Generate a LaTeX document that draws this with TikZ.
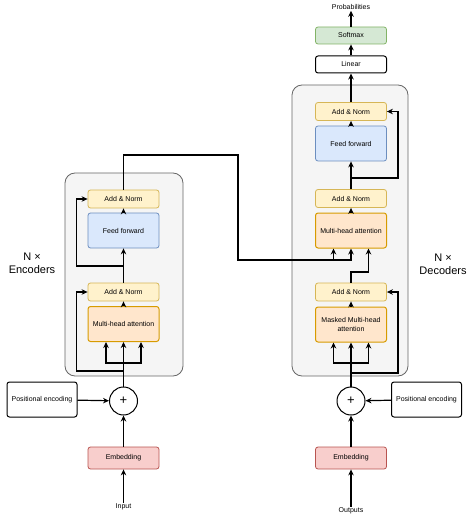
\documentclass[tikz,border=0pt]{standalone}
\usepackage{fontspec}
\setmainfont{Liberation Sans}
\usepackage{tikz}
\usetikzlibrary{calc}
\usetikzlibrary{arrows.meta}
\definecolor{normfill}{RGB}{255, 242, 204}
\definecolor{normline}{RGB}{214, 182, 86}
\definecolor{fffill}{RGB}{218, 232, 252}
\definecolor{ffline}{RGB}{108, 142, 191}
\definecolor{attfill}{RGB}{255, 230, 204}
\definecolor{attline}{RGB}{215, 155, 0}
\definecolor{embfill}{RGB}{248, 206, 204}
\definecolor{embline}{RGB}{184, 84, 80}
\definecolor{smfill}{RGB}{213, 232, 212}
\definecolor{smline}{RGB}{130, 179, 102}
\definecolor{stackfill}{RGB}{245, 245, 245}
\definecolor{stackline}{RGB}{102, 102, 102}

\tikzset{
  blk/.style={rectangle, rounded corners=2.5pt, line width=0.8pt, minimum width=71pt,
              inner sep=1pt, align=center, font=\fontsize{7}{8.5}\selectfont},
  addnorm/.style={blk, draw=normline, fill=normfill, minimum height=18pt},
  ffbox/.style={blk, draw=ffline, fill=fffill, minimum height=35pt},
  attbox/.style={blk, draw=attline, fill=attfill, minimum height=35pt, line width=1pt},
  embbox/.style={blk, draw=embline, fill=embfill, minimum height=22pt},
  smbox/.style={blk, draw=smline, fill=smfill, minimum height=17pt},
  plainbox/.style={blk, draw=black, fill=white, minimum height=17pt, line width=1pt},
  posbox/.style={blk, draw=black, fill=white, minimum width=70pt, minimum height=35pt, line width=1pt},
  addcirc/.style={circle, draw=black, fill=white, line width=1pt, minimum size=28pt, inner sep=0pt,
                  font=\fontsize{13}{13}\selectfont},
  stack/.style={draw=stackline, fill=stackfill, line width=0.8pt, rounded corners=10pt},
  caption/.style={font=\fontsize{7}{8.5}\selectfont, inner sep=1pt},
  sidelabel/.style={align=center, font=\fontsize{11}{13}\selectfont},
  link/.style={->, line width=1.2pt}
}

\begin{document}
\begin{tikzpicture}[x=1pt, y=-1pt, >={Stealth[length=6pt, width=5.5pt]}]
  \useasboundingbox (0,0) rectangle (474,521);
  % Stacks
  \draw[stack] (65,173) rectangle (183,376);
  \draw[stack] (292,85) rectangle (408,376);

  % Encoder
  \node[addnorm] (encAN2) at (123.5,199) {Add \& Norm};
  \node[ffbox]   (encFF)  at (123.5,230.5) {Feed forward};
  \node[addnorm] (encAN1) at (123.5,292) {Add \& Norm};
  \node[attbox]  (encMHA) at (123.5,324) {Multi-head attention};
  \node[addcirc] (encAdd) at (123.5,401) {+};
  \node[posbox]  (encPE)  at (42,399.5) {Positional encoding};
  \node[embbox]  (encEmb) at (123.5,458) {Embedding};
  \node[caption] (encIn)  at (123.5,507) {Input};
  \node[sidelabel] (encN) at (32,263.5) {N ×\\Encoders};

  % Decoder
  \node[caption]  (prob)    at (351,7) {Probabilities};
  \node[smbox]    (softmax) at (351,35.5) {Softmax};
  \node[plainbox] (linear)  at (351,64.5) {Linear};
  \node[addnorm]  (decAN3)  at (351,111.5) {Add \& Norm};
  \node[ffbox]    (decFF)   at (351,143.5) {Feed forward};
  \node[addnorm]  (decAN2)  at (351,198.5) {Add \& Norm};
  \node[attbox]   (decMHA)  at (351,230.5) {Multi-head attention};
  \node[addnorm]  (decAN1)  at (351,292) {Add \& Norm};
  \node[attbox]   (decMMHA) at (351,324.5) {Masked Multi-head\\attention};
  \node[addcirc]  (decAdd)  at (351,401) {+};
  \node[posbox]   (decPE)   at (426.5,399.5) {Positional encoding};
  \node[embbox]   (decEmb)  at (351,458) {Embedding};
  \node[caption]  (decOut)  at (351,511) {Outputs};
  \node[sidelabel] (decN)   at (443,264) {N ×\\Decoders};

  % Encoder wiring
  \coordinate (encSplit) at (123.5,363);
  \coordinate (encRes1)  at (123.5,371);
  \coordinate (encRes2)  at (123.5,266);
  \coordinate (encQ) at ([xshift=-17.5pt]encMHA.south);
  \coordinate (encV) at ([xshift=17.5pt]encMHA.south);
  \draw[link] (encIn) -- (encEmb);
  \draw[link] (encEmb) -- (encAdd);
  \draw[link] (encPE) -- (encAdd);
  \draw[link] (encAdd) -- (encMHA);
  \draw[link] (encSplit) -| (encQ);
  \draw[link] (encSplit) -| (encV);
  \draw[link] (encRes1) -| ([xshift=-11pt]encAN1.west) -- (encAN1.west);
  \draw[link] (encMHA) -- (encAN1);
  \draw[link] (encAN1) -- (encFF);
  \draw[link] (encRes2) -| ([xshift=-11pt]encAN2.west) -- (encAN2.west);
  \draw[link] (encFF) -- (encAN2);

  % Encoder output into decoder
  \coordinate (memTurn) at (238,155);
  \coordinate (memKnee) at (238,260);
  \coordinate (decK) at ([xshift=-17.5pt]decMHA.south);
  \coordinate (decQ) at ([xshift=17.5pt]decMHA.south);
  \draw[link] (encAN2.north) |- (memTurn) -- (memKnee) -| (decMHA.south);
  \draw[link] (decK |- memKnee) -- (decK);

  % Decoder wiring
  \coordinate (decSplit) at (351,363);
  \coordinate (decRes1)  at (351,373);
  \coordinate (decRes2)  at (351,178);
  \coordinate (decBend)  at (351,272);
  \coordinate (decMK) at ([xshift=-17.5pt]decMMHA.south);
  \coordinate (decMV) at ([xshift=17.5pt]decMMHA.south);
  \draw[link] (decOut) -- (decEmb);
  \draw[link] (decEmb) -- (decAdd);
  \draw[link] (decPE) -- (decAdd);
  \draw[link] (decAdd) -- (decMMHA);
  \draw[link] (decSplit) -| (decMK);
  \draw[link] (decSplit) -| (decMV);
  \draw[link] (decRes1) -| ([xshift=11pt]decAN1.east) -- (decAN1.east);
  \draw[link] (decMMHA) -- (decAN1);
  \draw[link] (decAN1.north) -- (decBend) -| (decQ);
  \draw[link] (decMHA) -- (decAN2);
  \draw[link] (decAN2) -- (decFF);
  \draw[link] (decRes2) -| ([xshift=11pt]decAN3.east) -- (decAN3.east);
  \draw[link] (decFF) -- (decAN3);
  \draw[link] (decAN3) -- (linear);
  \draw[link] (linear) -- (softmax);
  \draw[link] (softmax) -- (prob);
\end{tikzpicture}
\end{document}
